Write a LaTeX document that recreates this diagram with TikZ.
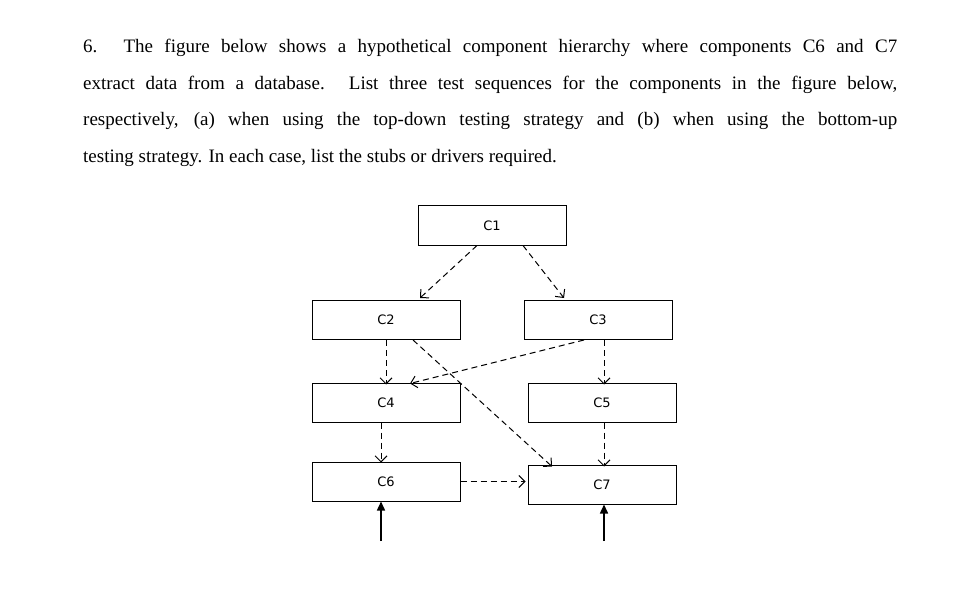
\documentclass[tikz,border=0pt]{standalone}
\usepackage{fontspec}
\setmainfont{Liberation Serif}
\newfontfamily\boxfont{DejaVu Sans}
\usetikzlibrary{arrows.meta}
\begin{document}
\begin{tikzpicture}[x=1pt,y=-1pt,
  comp/.style={draw,line width=1pt,minimum width=148pt,minimum height=39pt,font=\boxfont\fontsize{13}{15}\selectfont,inner sep=0pt},
  dep/.style={draw,dashed,dash pattern=on 6pt off 4pt,line width=1pt,-{Straight Barb[length=6pt,width=12pt]}},
  drv/.style={draw,line width=1.5pt,-{Triangle[length=9pt,width=8pt]}},
  txt/.style={anchor=base west,inner sep=0pt,font=\fontsize{19}{22}\selectfont}]
\useasboundingbox (0,0) rectangle (976,612);
\node[txt] (l1) at (83,53) {\makebox[814pt][s]{6. The figure below shows a hypothetical component hierarchy where components C6 and C7}};
\node[txt] (l2) at (83,90) {\makebox[814pt][s]{extract data from a database. List three test sequences for the components in the figure below,}};
\node[txt] (l3) at (83,126) {\makebox[814pt][s]{respectively, (a) when using the top-down testing strategy and (b) when using the bottom-up}};
\node[txt] (l4) at (83,163) {testing strategy. In each case, list the stubs or drivers required.};
\node[comp] (c1) at (492,225.5) {C1};
\node[comp] (c2) at (386,320) {C2};
\node[comp] (c3) at (598,320) {C3};
\node[comp] (c4) at (386,402.5) {C4};
\node[comp] (c5) at (602,402.5) {C5};
\node[comp] (c6) at (386,481.5) {C6};
\node[comp] (c7) at (602,484.5) {C7};
\coordinate (d6) at (381,541);
\coordinate (d7) at (604,541);
\draw[dep] ([xshift=-15pt]c1.south) -- (420,298);
\draw[dep] ([xshift=31pt]c1.south) -- (564,298);
\draw[dep] (c2.south) -- ([yshift=-2pt]c4.north);
\draw[dep] ([xshift=27pt]c2.south) -- ([xshift=-50pt,yshift=-2pt]c7.north);
\draw[dep] ([xshift=-14pt]c3.south) -- ([xshift=24pt,yshift=-1pt]c4.north);
\draw[dep] ([xshift=6pt]c3.south) -- ([xshift=2pt,yshift=-2pt]c5.north);
\draw[dep] ([xshift=-5pt]c4.south) -- ([xshift=-5pt,yshift=-1pt]c6.north);
\draw[dep] ([xshift=2pt]c5.south) -- ([xshift=2pt,yshift=-2pt]c7.north);
\draw[dep] (c6.east) -- ([xshift=-2pt]c7.west |- c6.east);
\draw[drv] (d6) -- (d6 |- c6.south);
\draw[drv] (d7) -- (d7 |- c7.south);
\end{tikzpicture}
\end{document}
